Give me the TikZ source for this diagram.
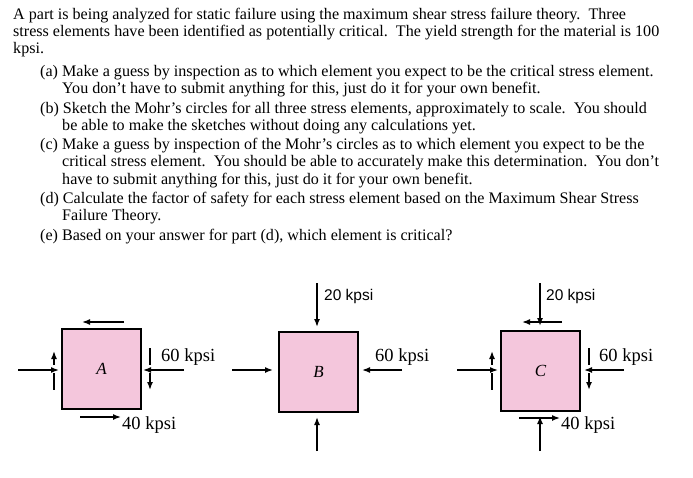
\documentclass[tikz,border=0pt]{standalone}
\usepackage{fontspec}
\setmainfont{Liberation Serif}
\newfontfamily\hv{Liberation Sans}
\definecolor{pk}{RGB}{244,198,220}
\begin{document}
\begin{tikzpicture}[x=1pt,y=-1pt,
 txt/.style={anchor=west,inner sep=0pt,font=\fontsize{16.1}{18}\selectfont},
 box/.style={draw,line width=1.8pt,fill=pk},
 ar/.style={line width=1.5pt,-{Latex[length=8pt,width=6pt]}},
 ln/.style={line width=1.5pt},
 lab/.style={anchor=west,inner sep=0pt,font=\fontsize{18.5}{20}\selectfont},
 labs/.style={anchor=west,inner sep=0pt,font=\hv\fontsize{15.5}{18}\selectfont}]
\usetikzlibrary{arrows.meta}
\useasboundingbox (0,0) rectangle (693,478);
\fill[white] (0,0) rectangle (693,478);
\node[txt] (l1) at (13,16) {A part is being analyzed for static failure using the maximum shear stress failure theory.\ \ Three};
\node[txt] (l2) at (13,33) {stress elements have been identified as potentially critical.\ \ The yield strength for the material is 100};
\node[txt] (l3) at (13,50) {kpsi.};
\node[txt] (l4) at (40,73) {(a) Make a guess by inspection as to which element you expect to be the critical stress element.};
\node[txt] (l5) at (62,90) {You don’t have to submit anything for this, just do it for your own benefit.};
\node[txt] (l6) at (40,110) {(b) Sketch the Mohr’s circles for all three stress elements, approximately to scale.\ \ You should};
\node[txt] (l7) at (62,127) {be able to make the sketches without doing any calculations yet.};
\node[txt] (l8) at (40,146) {(c) Make a guess by inspection of the Mohr’s circles as to which element you expect to be the};
\node[txt] (l9) at (62,163) {critical stress element.\ \ You should be able to accurately make this determination.\ \ You don’t};
\node[txt] (l10) at (62,181) {have to submit anything for this, just do it for your own benefit.};
\node[txt] (l11) at (40,200) {(d) Calculate the factor of safety for each stress element based on the Maximum Shear Stress};
\node[txt] (l12) at (62,217) {Failure Theory.};
\node[txt] (l13) at (40,237) {(e) Based on your answer for part (d), which element is critical?};
% Element A
\node[box,minimum width=79pt,minimum height=80pt,inner sep=0pt,font=\itshape\fontsize{17}{18}\selectfont] (A) at (101.5,369) {A};
\draw[ar] (124,322) -- (82,322);
\draw[ar] (80,417) -- (121,417);
\draw[ar] (18,370) -- (59,370);
\draw[ar] (184,370) -- (143,370);
\draw[ar] (54,365) -- (54,351);
\draw[ln] (54,373) -- (54,390);
\draw[ln] (150,348) -- (150,365);
\draw[ar] (150,373) -- (150,390);
\node[lab] (a60) at (161,357) {60 kpsi};
\node[lab] (a40) at (122,425) {40 kpsi};
% Element B
\node[box,minimum width=79pt,minimum height=80pt,inner sep=0pt,font=\itshape\fontsize{17}{18}\selectfont] (B) at (318.5,372) {B};
\draw[ar] (317,283) -- (317,327);
\draw[ar] (317,451) -- (317,417);
\draw[ar] (232,370) -- (273,370);
\draw[ar] (402,370) -- (362,370);
\node[labs] (b20) at (324,296) {20 kpsi};
\node[lab] (b60) at (375,357) {60 kpsi};
% Element C
\node[box,minimum width=79pt,minimum height=80pt,inner sep=0pt,font=\itshape\fontsize{17}{18}\selectfont] (C) at (540.5,371) {C};
\draw[ar] (540,283) -- (540,326);
\draw[ar] (562,322) -- (522,322);
\draw[ar] (519,418) -- (560,418);
\draw[ar] (540,451) -- (540,416);
\draw[ar] (457,370) -- (498,370);
\draw[ar] (624,370) -- (584,370);
\draw[ar] (492,365) -- (492,351);
\draw[ln] (492,373) -- (492,390);
\draw[ln] (589,348) -- (589,365);
\draw[ar] (589,373) -- (589,390);
\node[labs] (c20) at (546,296) {20 kpsi};
\node[lab] (c60) at (599,357) {60 kpsi};
\node[lab] (c40) at (561,425) {40 kpsi};
\end{tikzpicture}
\end{document}
